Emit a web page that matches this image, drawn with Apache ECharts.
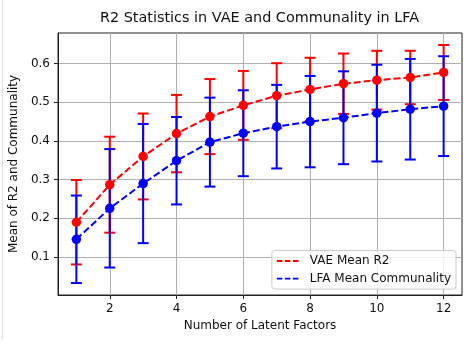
<!DOCTYPE html>
<html>
<head>
<meta charset="utf-8">
<script src="https://cdn.jsdelivr.net/npm/echarts@6/dist/echarts.min.js"></script>
<style>
html,body{margin:0;padding:0;background:#fff;}
#chart{width:474px;height:348px;}
</style>
</head>
<body>
<div id="chart"></div>
<script>
const factors = [1, 2, 3, 4, 5, 6, 7, 8, 9, 10, 11, 12];
const vaeMean = [0.190, 0.287, 0.360, 0.419, 0.463, 0.492, 0.517, 0.533, 0.548, 0.557, 0.564, 0.577];
const vaeStd  = [0.109, 0.124, 0.111, 0.100, 0.097, 0.089, 0.084, 0.082, 0.078, 0.076, 0.069, 0.071];
const lfaMean = [0.146, 0.226, 0.290, 0.349, 0.397, 0.420, 0.437, 0.450, 0.460, 0.472, 0.482, 0.490];
const lfaStd  = [0.113, 0.153, 0.154, 0.113, 0.115, 0.111, 0.108, 0.118, 0.120, 0.125, 0.130, 0.129];
const xTicks = [2, 4, 6, 8, 10, 12];
const yTicks = [0.1, 0.2, 0.3, 0.4, 0.5, 0.6];
const titleText = 'R2 Statistics in VAE and Communality in LFA';
const xName = 'Number of Latent Factors';
const yName = 'Mean of R2 and Communality';
const vaeName = 'VAE Mean R2';
const lfaName = 'LFA Mean Communality';

const FONT = 'DejaVu Sans';
const RED = '#ff0000';
const BLUE = '#0000ff';

function lineData(means) { return factors.map((f, i) => [f, means[i]]); }
function errData(means, stds) { return factors.map((f, i) => [f, means[i] - stds[i], means[i] + stds[i]]); }

function errRender(color) {
  return function (params, api) {
    const x = api.value(0);
    const top = api.coord([x, api.value(2)]);
    const bot = api.coord([x, api.value(1)]);
    const cap = 5.5;
    const st = { stroke: color, lineWidth: 2 };
    return {
      type: 'group',
      children: [
        { type: 'line', shape: { x1: top[0], y1: top[1], x2: bot[0], y2: bot[1] }, style: st },
        { type: 'line', shape: { x1: top[0] - cap, y1: top[1], x2: top[0] + cap, y2: top[1] }, style: st },
        { type: 'line', shape: { x1: bot[0] - cap, y1: bot[1], x2: bot[0] + cap, y2: bot[1] }, style: st }
      ]
    };
  };
}

// dashed legend handle (3 dashes) with invisible bbox padding to the right
const dashIcon = 'path://M0,6.1h5.6v1.8h-5.6z M8,6.1h5.6v1.8h-5.6z M16,6.1h5.6v1.8h-5.6z M27.99,13.99h0.01v0.01h-0.01z M0,0h0.01v0.01h-0.01z';

const chart = echarts.init(document.getElementById('chart'), null, { renderer: 'canvas' });
chart.setOption({
  animation: false,
  backgroundColor: '#ffffff',
  textStyle: { fontFamily: FONT },
  title: {
    text: titleText,
    left: 100,
    top: 11,
    padding: 0,
    textStyle: { fontFamily: FONT, fontSize: 14.4, fontWeight: 'normal', color: '#111' }
  },
  graphic: [
    { type: 'line', silent: true, shape: { x1: 2.5, y1: 0, x2: 2.5, y2: 340 }, style: { stroke: '#e2e2e2', lineWidth: 1 } }
  ],
  grid: {
    left: 58, right: 12, top: 33, bottom: 53,
    show: true, borderColor: '#222', borderWidth: 1, backgroundColor: 'transparent',
    containLabel: false
  },
  legend: {
    orient: 'vertical',
    right: 18,
    top: 250.5,
    padding: [3.5, 5, 3.5, 5],
    itemWidth: 28,
    itemHeight: 14,
    itemGap: 3.6,
    backgroundColor: 'rgba(255,255,255,0.8)',
    borderColor: '#cccccc',
    borderWidth: 1,
    borderRadius: 3,
    textStyle: { fontFamily: FONT, fontSize: 12, color: '#111' },
    data: [
      { name: vaeName, icon: dashIcon, itemStyle: { color: RED } },
      { name: lfaName, icon: dashIcon, itemStyle: { color: BLUE } }
    ]
  },
  xAxis: {
    type: 'value',
    min: 0.45,
    max: 12.55,
    name: xName,
    nameLocation: 'middle',
    nameGap: 24,
    nameTextStyle: { fontFamily: FONT, fontSize: 12, color: '#111' },
    axisLine: { show: true, onZero: false, lineStyle: { color: '#222', width: 1 } },
    axisTick: { show: true, inside: false, length: 4, customValues: xTicks, lineStyle: { color: '#222', width: 1 } },
    axisLabel: { show: true, customValues: xTicks, margin: 8, fontFamily: FONT, fontSize: 12, color: '#111', formatter: v => String(v) },
    splitLine: { show: true, lineStyle: { color: '#b0b0b0', width: 1 } }
  },
  yAxis: {
    type: 'value',
    min: 0.002,
    max: 0.679,
    name: yName,
    nameLocation: 'middle',
    nameRotate: 90,
    nameGap: 28,
    nameTextStyle: { fontFamily: FONT, fontSize: 12, color: '#111' },
    axisLine: { show: true, onZero: false, lineStyle: { color: '#222', width: 1 } },
    axisTick: { show: true, inside: false, length: 4, customValues: yTicks, lineStyle: { color: '#222', width: 1 } },
    axisLabel: { show: true, customValues: yTicks, margin: 8, fontFamily: FONT, fontSize: 12, color: '#111', formatter: v => v.toFixed(1) },
    splitLine: { show: true, lineStyle: { color: '#b0b0b0', width: 1 } }
  },
  series: [
    {
      name: vaeName + ' err',
      type: 'custom',
      renderItem: errRender(RED),
      encode: { x: 0, y: [1, 2] },
      data: errData(vaeMean, vaeStd),
      z: 2,
      silent: true
    },
    {
      name: lfaName + ' err',
      type: 'custom',
      renderItem: errRender(BLUE),
      encode: { x: 0, y: [1, 2] },
      data: errData(lfaMean, lfaStd),
      z: 2,
      silent: true
    },
    {
      name: vaeName,
      type: 'line',
      data: lineData(vaeMean),
      symbol: 'circle',
      symbolSize: 9.5,
      showSymbol: true,
      lineStyle: { color: RED, width: 2, type: [7, 3] },
      itemStyle: { color: RED, borderWidth: 0 },
      z: 3
    },
    {
      name: lfaName,
      type: 'line',
      data: lineData(lfaMean),
      symbol: 'circle',
      symbolSize: 9.5,
      showSymbol: true,
      lineStyle: { color: BLUE, width: 2, type: [7, 3] },
      itemStyle: { color: BLUE, borderWidth: 0 },
      z: 3
    }
  ]
});
</script>
</body>
</html>
